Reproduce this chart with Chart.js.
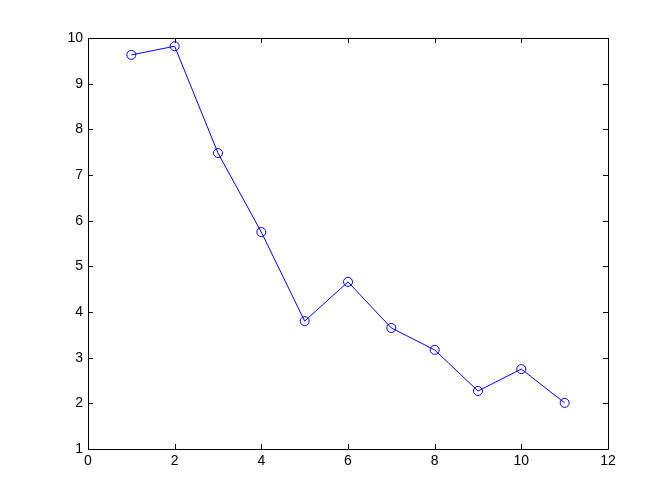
<!DOCTYPE html>
<html>
<head>
<meta charset="utf-8">
<script src="https://cdn.jsdelivr.net/npm/chart.js"></script>
<style>
  html, body { margin: 0; padding: 0; background: #fff; }
  #wrap { width: 672px; height: 504px; position: relative; }
</style>
</head>
<body>
<div id="wrap"><canvas id="chart" width="672" height="504"></canvas></div>
<script>
  const xValues = [1, 2, 3, 4, 5, 6, 7, 8, 9, 10, 11];
  const yValues = [9.63, 9.82, 7.48, 5.75, 3.80, 4.66, 3.65, 3.17, 2.27, 2.75, 2.01];

  const X_MIN = 0, X_MAX = 12, X_STEP = 2;
  const Y_MIN = 1, Y_MAX = 10, Y_STEP = 1;

  const lineColor = "#0000ff";

  // MATLAB style box with inward ticks on all four sides
  const boxTicks = {
    id: "boxTicks",
    afterDraw(chart) {
      const { ctx, chartArea: a, scales } = chart;
      const len = 5;
      ctx.save();
      ctx.strokeStyle = "#000";
      ctx.lineWidth = 1;
      ctx.beginPath();
      ctx.rect(Math.round(a.left) + 0.5, Math.round(a.top) + 0.5,
        Math.round(a.right - a.left), Math.round(a.bottom - a.top));
      scales.x.ticks.forEach((t) => {
        const px = Math.round(scales.x.getPixelForValue(t.value)) + 0.5;
        ctx.moveTo(px, a.bottom);
        ctx.lineTo(px, a.bottom - len);
        ctx.moveTo(px, a.top);
        ctx.lineTo(px, a.top + len);
      });
      scales.y.ticks.forEach((t) => {
        const py = Math.round(scales.y.getPixelForValue(t.value)) + 0.5;
        ctx.moveTo(a.left, py);
        ctx.lineTo(a.left + len, py);
        ctx.moveTo(a.right, py);
        ctx.lineTo(a.right - len, py);
      });
      ctx.stroke();
      ctx.restore();
    },
  };

  const tickFont = { family: '"Liberation Sans", Arial, sans-serif', size: 14 };

  new Chart(document.getElementById("chart"), {
    type: "line",
    data: {
      datasets: [
        {
          data: xValues.map((x, i) => ({ x: x, y: yValues[i] })),
          borderColor: lineColor,
          borderWidth: 1,
          backgroundColor: "transparent",
          pointStyle: "circle",
          pointRadius: 4.5,
          pointBorderWidth: 1,
          pointBorderColor: lineColor,
          pointBackgroundColor: "transparent",
          tension: 0,
          fill: false,
        },
      ],
    },
    options: {
      responsive: false,
      animation: false,
      layout: { padding: { left: 0, top: 38, right: 64, bottom: 20 } },
      plugins: { legend: { display: false }, tooltip: { enabled: false } },
      scales: {
        x: {
          type: "linear",
          min: X_MIN,
          max: X_MAX,
          grid: { display: false, drawTicks: false },
          border: { display: false },
          ticks: { stepSize: X_STEP, color: "#000", font: tickFont, padding: 4, maxRotation: 0 },
          afterFit: (scale) => { scale.height = 35; },
        },
        y: {
          type: "linear",
          min: Y_MIN,
          max: Y_MAX,
          grid: { display: false, drawTicks: false },
          border: { display: false },
          ticks: { stepSize: Y_STEP, color: "#000", font: tickFont, padding: 5 },
          afterFit: (scale) => { scale.width = 88; },
        },
      },
    },
    plugins: [boxTicks],
  });
</script>
</body>
</html>
